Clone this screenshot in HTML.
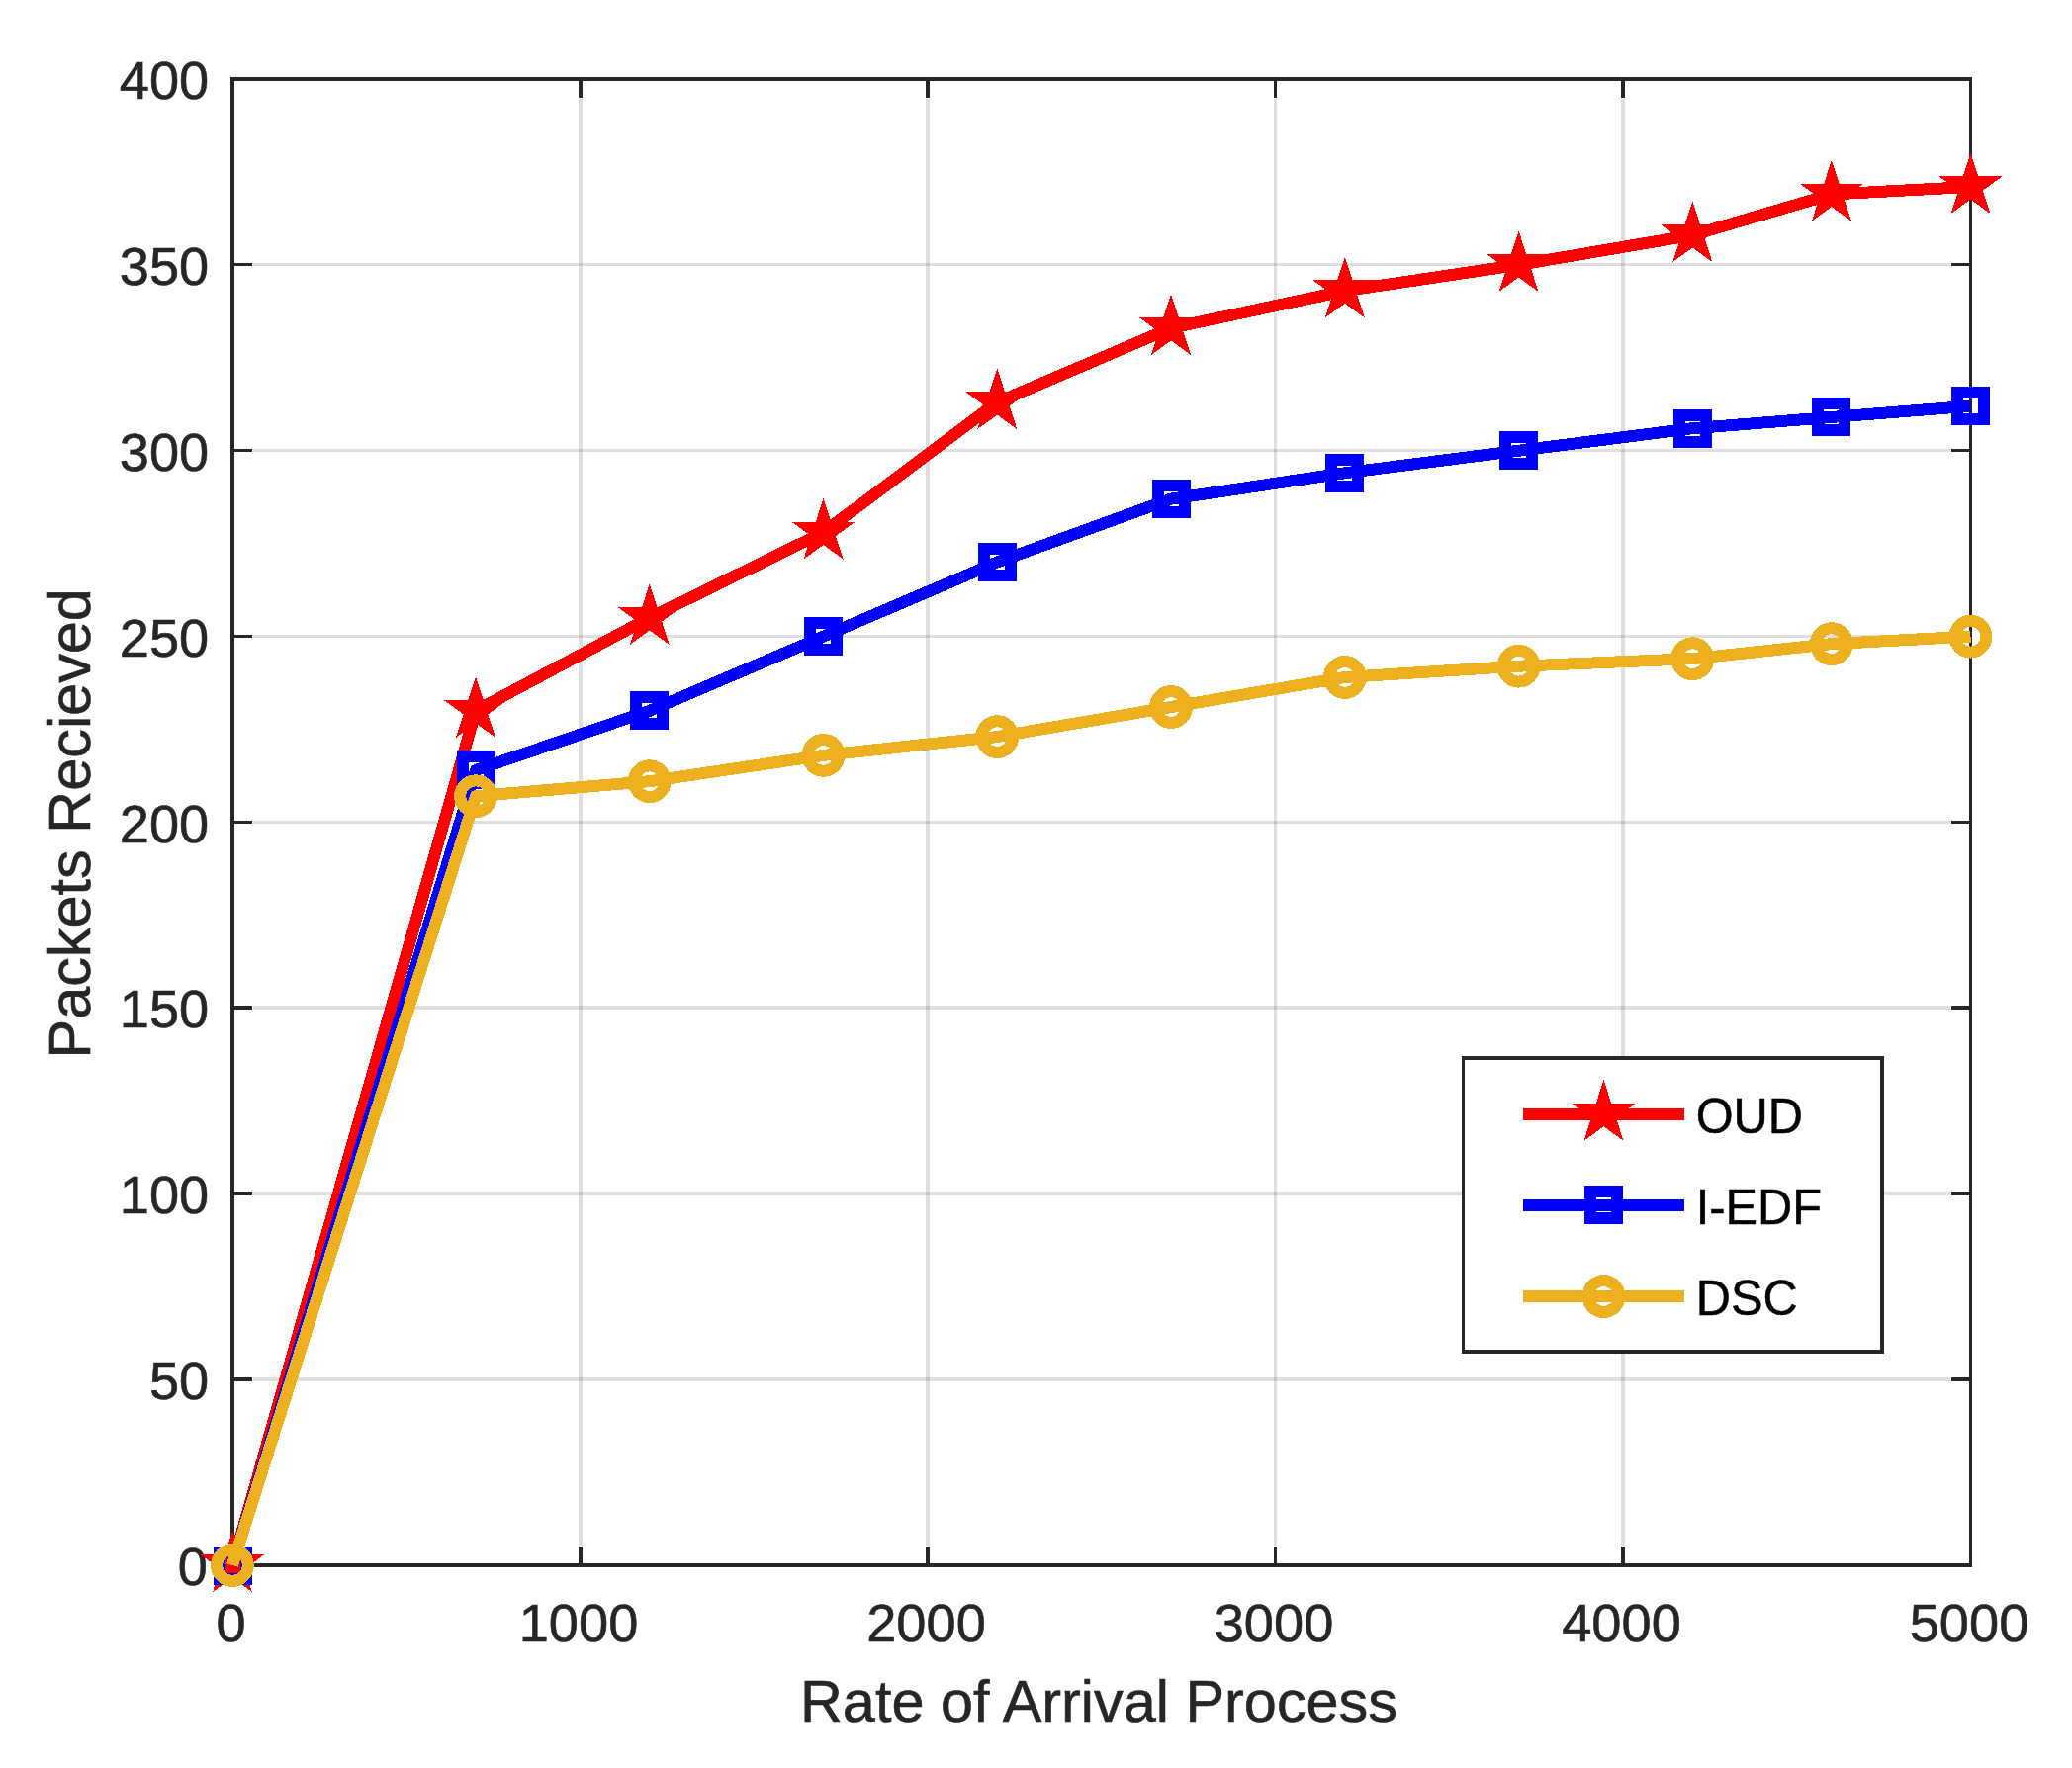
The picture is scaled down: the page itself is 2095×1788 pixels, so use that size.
<!DOCTYPE html>
<html lang="en"><head><meta charset="utf-8"><title>Packets Recieved vs Rate of Arrival Process</title>
<style>html,body{margin:0;padding:0;background:#fff;}body{width:2095px;height:1788px;overflow:hidden;}</style></head>
<body>
<svg width="2095" height="1788" viewBox="0 0 2095 1788" style="display:block">
<rect x="0" y="0" width="2095" height="1788" fill="#ffffff"/>
<g fill="rgba(38,38,38,0.15)" shape-rendering="crispEdges">
<rect x="585" y="100" width="4" height="1463"/>
<rect x="936" y="100" width="4" height="1463"/>
<rect x="1288" y="100" width="3" height="1463"/>
<rect x="1639" y="100" width="4" height="1463"/>
<rect x="256" y="266" width="1716" height="3"/>
<rect x="256" y="454" width="1716" height="3"/>
<rect x="256" y="642" width="1716" height="3"/>
<rect x="256" y="830" width="1716" height="3"/>
<rect x="256" y="1017" width="1716" height="4"/>
<rect x="256" y="1205" width="1716" height="4"/>
<rect x="256" y="1393" width="1716" height="4"/>
</g>
<g fill="#262626" shape-rendering="crispEdges">
<rect x="233" y="78" width="4" height="1507"/>
<rect x="1991" y="78" width="3" height="1507"/>
<rect x="233" y="78" width="1761" height="4"/>
<rect x="233" y="1581" width="1761" height="4"/>
<rect x="585" y="82" width="4" height="17"/>
<rect x="585" y="1564" width="4" height="17"/>
<rect x="936" y="82" width="4" height="17"/>
<rect x="936" y="1564" width="4" height="17"/>
<rect x="1288" y="82" width="3" height="17"/>
<rect x="1288" y="1564" width="3" height="17"/>
<rect x="1639" y="82" width="4" height="17"/>
<rect x="1639" y="1564" width="4" height="17"/>
<rect x="237" y="266" width="18" height="3"/>
<rect x="1973" y="266" width="18" height="3"/>
<rect x="237" y="454" width="18" height="3"/>
<rect x="1973" y="454" width="18" height="3"/>
<rect x="237" y="642" width="18" height="3"/>
<rect x="1973" y="642" width="18" height="3"/>
<rect x="237" y="830" width="18" height="3"/>
<rect x="1973" y="830" width="18" height="3"/>
<rect x="237" y="1017" width="18" height="4"/>
<rect x="1973" y="1017" width="18" height="4"/>
<rect x="237" y="1205" width="18" height="4"/>
<rect x="1973" y="1205" width="18" height="4"/>
<rect x="237" y="1393" width="18" height="4"/>
<rect x="1973" y="1393" width="18" height="4"/>
</g>
<g font-family="Liberation Sans, Arial, Helvetica, sans-serif" font-size="54.2" fill="#262626" stroke="#262626" stroke-width="0.6">
<text x="210.0" y="1603.00" text-anchor="end">0</text>
<text x="211.2" y="1415.12" text-anchor="end">50</text>
<text x="211.2" y="1227.25" text-anchor="end">100</text>
<text x="211.2" y="1039.38" text-anchor="end">150</text>
<text x="211.2" y="851.50" text-anchor="end">200</text>
<text x="211.2" y="663.62" text-anchor="end">250</text>
<text x="211.2" y="475.75" text-anchor="end">300</text>
<text x="211.2" y="287.88" text-anchor="end">350</text>
<text x="211.2" y="100.00" text-anchor="end">400</text>
<text x="233.50" y="1659.7" text-anchor="middle">0</text>
<text x="585.00" y="1659.7" text-anchor="middle">1000</text>
<text x="936.50" y="1659.7" text-anchor="middle">2000</text>
<text x="1288.00" y="1659.7" text-anchor="middle">3000</text>
<text x="1639.50" y="1659.7" text-anchor="middle">4000</text>
<text x="1991.00" y="1659.7" text-anchor="middle">5000</text>
</g>
<text font-family="Liberation Sans, Arial, Helvetica, sans-serif" font-size="59.4" fill="#262626" stroke="#262626" stroke-width="0.6" x="1111.0" y="1740.6" text-anchor="middle">Rate of Arrival Process</text>
<text font-family="Liberation Sans, Arial, Helvetica, sans-serif" font-size="59.4" fill="#262626" stroke="#262626" stroke-width="0.6" transform="translate(90.7 832.8) rotate(-90)" text-anchor="middle">Packets Recieved</text>
<polyline shape-rendering="crispEdges" points="235.00,1583.00 481.05,718.77 656.80,624.84 832.55,538.41 1008.30,406.90 1184.05,331.75 1359.80,294.18 1535.55,267.88 1711.30,237.82 1851.90,196.48 1992.50,188.97" fill="none" stroke="#ff0000" stroke-width="12.0" stroke-linejoin="round" stroke-linecap="butt"/>
<g fill="#ff0000" stroke="none" shape-rendering="crispEdges">
<polygon points="235.00,1548.55 242.66,1572.11 267.43,1572.11 247.39,1586.67 255.04,1610.24 235.00,1595.68 214.96,1610.24 222.61,1586.67 202.57,1572.11 227.34,1572.11"/>
<polygon points="481.05,684.32 488.71,707.89 513.48,707.89 493.44,722.45 501.09,746.01 481.05,731.45 461.01,746.01 468.66,722.45 448.62,707.89 473.39,707.89"/>
<polygon points="656.80,590.39 664.46,613.95 689.23,613.95 669.19,628.51 676.84,652.07 656.80,637.51 636.76,652.07 644.41,628.51 624.37,613.95 649.14,613.95"/>
<polygon points="832.55,503.96 840.21,527.53 864.98,527.53 844.94,542.09 852.59,565.65 832.55,551.09 812.51,565.65 820.16,542.09 800.12,527.53 824.89,527.53"/>
<polygon points="1008.30,372.45 1015.96,396.02 1040.73,396.02 1020.69,410.58 1028.34,434.14 1008.30,419.58 988.26,434.14 995.91,410.58 975.87,396.02 1000.64,396.02"/>
<polygon points="1184.05,297.30 1191.71,320.87 1216.48,320.87 1196.44,335.43 1204.09,358.99 1184.05,344.43 1164.01,358.99 1171.66,335.43 1151.62,320.87 1176.39,320.87"/>
<polygon points="1359.80,259.73 1367.46,283.29 1392.23,283.29 1372.19,297.85 1379.84,321.41 1359.80,306.85 1339.76,321.41 1347.41,297.85 1327.37,283.29 1352.14,283.29"/>
<polygon points="1535.55,233.42 1543.21,256.99 1567.98,256.99 1547.94,271.55 1555.59,295.11 1535.55,280.55 1515.51,295.11 1523.16,271.55 1503.12,256.99 1527.89,256.99"/>
<polygon points="1711.30,203.37 1718.96,226.93 1743.73,226.93 1723.69,241.49 1731.34,265.05 1711.30,250.49 1691.26,265.05 1698.91,241.49 1678.87,226.93 1703.64,226.93"/>
<polygon points="1851.90,162.03 1859.56,185.60 1884.33,185.60 1864.29,200.16 1871.94,223.72 1851.90,209.16 1831.86,223.72 1839.51,200.16 1819.47,185.60 1844.24,185.60"/>
<polygon points="1992.50,154.52 2000.16,178.08 2024.93,178.08 2004.89,192.64 2012.54,216.20 1992.50,201.64 1972.46,216.20 1980.11,192.64 1960.07,178.08 1984.84,178.08"/>
</g>
<polyline shape-rendering="crispEdges" points="235.00,1583.00 481.05,778.89 656.80,718.77 832.55,643.62 1008.30,568.48 1184.05,504.60 1359.80,478.30 1535.55,455.75 1711.30,433.20 1851.90,421.93 1992.50,410.66" fill="none" stroke="#0000ff" stroke-width="12.0" stroke-linejoin="round" stroke-linecap="butt"/>
<g fill="none" stroke="#0000ff" stroke-width="12.0" stroke-linejoin="miter" shape-rendering="crispEdges">
<rect x="221.50" y="1569.50" width="27.0" height="27.0"/>
<rect x="467.55" y="765.39" width="27.0" height="27.0"/>
<rect x="643.30" y="705.27" width="27.0" height="27.0"/>
<rect x="819.05" y="630.12" width="27.0" height="27.0"/>
<rect x="994.80" y="554.98" width="27.0" height="27.0"/>
<rect x="1170.55" y="491.10" width="27.0" height="27.0"/>
<rect x="1346.30" y="464.80" width="27.0" height="27.0"/>
<rect x="1522.05" y="442.25" width="27.0" height="27.0"/>
<rect x="1697.80" y="419.70" width="27.0" height="27.0"/>
<rect x="1838.40" y="408.43" width="27.0" height="27.0"/>
<rect x="1979.00" y="397.16" width="27.0" height="27.0"/>
</g>
<polyline shape-rendering="crispEdges" points="235.00,1583.00 481.05,805.20 656.80,790.17 832.55,763.87 1008.30,745.08 1184.05,715.02 1359.80,684.96 1535.55,673.68 1711.30,666.17 1851.90,651.14 1992.50,643.62" fill="none" stroke="#edb120" stroke-width="12.0" stroke-linejoin="round" stroke-linecap="butt"/>
<g fill="none" stroke="#edb120" stroke-width="12.0" shape-rendering="crispEdges">
<circle cx="235.00" cy="1583.00" r="15.9"/>
<circle cx="481.05" cy="805.20" r="15.9"/>
<circle cx="656.80" cy="790.17" r="15.9"/>
<circle cx="832.55" cy="763.87" r="15.9"/>
<circle cx="1008.30" cy="745.08" r="15.9"/>
<circle cx="1184.05" cy="715.02" r="15.9"/>
<circle cx="1359.80" cy="684.96" r="15.9"/>
<circle cx="1535.55" cy="673.68" r="15.9"/>
<circle cx="1711.30" cy="666.17" r="15.9"/>
<circle cx="1851.90" cy="651.14" r="15.9"/>
<circle cx="1992.50" cy="643.62" r="15.9"/>
</g>
<rect x="1478" y="1068" width="427" height="301" fill="#ffffff"/>
<g fill="#262626" shape-rendering="crispEdges"><rect x="1478" y="1068" width="3" height="301"/><rect x="1901" y="1068" width="4" height="301"/><rect x="1478" y="1068" width="427" height="4"/><rect x="1478" y="1365" width="427" height="4"/></g>
<line shape-rendering="crispEdges" x1="1540.0" y1="1126.6" x2="1703.0" y2="1126.6" stroke="#ff0000" stroke-width="12.0"/>
<g fill="#ff0000" shape-rendering="crispEdges"><polygon points="1621.50,1092.15 1629.16,1115.71 1653.93,1115.71 1633.89,1130.27 1641.54,1153.84 1621.50,1139.28 1601.46,1153.84 1609.11,1130.27 1589.07,1115.71 1613.84,1115.71"/></g>
<text font-family="Liberation Sans, Arial, Helvetica, sans-serif" font-size="48.75" fill="#000000" transform="translate(1714.7 1146.00) scale(1 1.04)" stroke="#000" stroke-width="0.5">OUD</text>
<line shape-rendering="crispEdges" x1="1540.0" y1="1218.9" x2="1703.0" y2="1218.9" stroke="#0000ff" stroke-width="12.0"/>
<rect x="1608.00" y="1205.40" width="27.0" height="27.0" fill="none" stroke="#0000ff" stroke-width="12.0" shape-rendering="crispEdges"/>
<text font-family="Liberation Sans, Arial, Helvetica, sans-serif" font-size="48.75" fill="#000000" transform="translate(1714.7 1238.30) scale(1 1.04)" stroke="#000" stroke-width="0.5">I-EDF</text>
<line shape-rendering="crispEdges" x1="1540.0" y1="1311.0" x2="1703.0" y2="1311.0" stroke="#edb120" stroke-width="12.0"/>
<circle cx="1621.50" cy="1311.00" r="15.9" fill="none" stroke="#edb120" stroke-width="12.0" shape-rendering="crispEdges"/>
<text font-family="Liberation Sans, Arial, Helvetica, sans-serif" font-size="48.75" fill="#000000" transform="translate(1714.7 1330.40) scale(1 1.04)" stroke="#000" stroke-width="0.5">DSC</text>
</svg>
</body></html>
